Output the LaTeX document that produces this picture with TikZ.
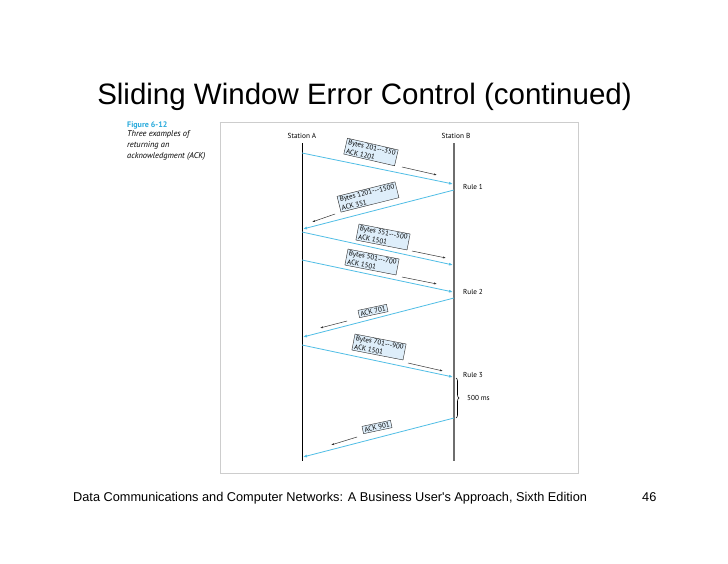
\documentclass[tikz,border=0pt]{standalone}
\usepackage{fontspec}
\setmainfont{Liberation Sans}
\newfontfamily\plainsans{Liberation Sans}[Ligatures=TeXOff]
\newfontfamily\figfont{PT Sans}
\usetikzlibrary{arrows.meta,decorations.pathreplacing}
\definecolor{msgcyan}{RGB}{80,190,230}
\definecolor{boxfill}{RGB}{222,238,250}
\definecolor{framegray}{RGB}{205,205,205}
\definecolor{capcyan}{RGB}{40,170,220}
\definecolor{stbgray}{RGB}{110,110,110}
\begin{document}
\begin{tikzpicture}[x=1pt,y=-1pt,
  msg/.style={draw=msgcyan,line width=0.8pt,-{Latex[length=4pt,width=3pt]}},
  dir/.style={draw=black!80,line width=0.5pt,-{Latex[length=3pt,width=2pt]}},
  lbl/.style={draw=black!85,line width=0.4pt,fill=boxfill,font=\figfont\fontsize{7}{8.8}\selectfont,align=left,inner xsep=1.8pt,inner ysep=1.2pt},
  figtxt/.style={font=\figfont\fontsize{7.3}{8}\selectfont,inner sep=0pt},
  rule/.style={font=\figfont\fontsize{7.2}{8}\selectfont,anchor=west,inner sep=0pt}]
\useasboundingbox (0,0) rectangle (728,563);
\fill[white] (0,0) rectangle (728,563);
% title and footer
\node[anchor=base,inner sep=0pt,font=\fontsize{29.5}{33}\selectfont] (title) at (364.5,104) {Sliding Window Error Control (continued)};
\node[anchor=base west,inner sep=0pt,font=\plainsans\fontsize{12.75}{15}\selectfont] (footer) at (73,501) {Data Communications and Computer Networks: A Business User's Approach, Sixth Edition};
\node[anchor=base west,inner sep=0pt,font=\fontsize{12.75}{15}\selectfont] (page) at (642,501) {46};
% caption
\node[anchor=west,inner sep=0pt,font=\figfont\bfseries\fontsize{8}{9}\selectfont,text=capcyan] (figno) at (127,125) {Figure 6-12};
\node[anchor=north west,inner sep=0pt,align=left,font=\figfont\itshape\fontsize{8.4}{11}\selectfont] (cap) at (127,130.5) {Three examples of\\returning an\\acknowledgment (ACK)};
% frame
\draw[framegray,line width=0.8pt] (220,122) rectangle (578,473);
% stations
\node[figtxt] (sa) at (302,136) {Station A};
\node[figtxt] (sb) at (456,136) {Station B};
\coordinate (At) at (302,143); \coordinate (Ab) at (302,461);
\coordinate (Bt) at (454,143); \coordinate (Bb) at (454,461);
\draw[black,line width=0.9pt] (At) -- (Ab);
\draw[stbgray,line width=1.4pt] (Bt) -- (Bb);
% message endpoints
\coordinate (a1) at (302,153); \coordinate (b1) at (453,184);
\coordinate (b2) at (454,190); \coordinate (a2) at (303,229);
\coordinate (a3) at (302,232); \coordinate (b3) at (453,265);
\coordinate (a4) at (302,260); \coordinate (b4) at (453,292);
\coordinate (b5) at (454,298); \coordinate (a5) at (303,337);
\coordinate (a6) at (302,345); \coordinate (b6) at (453,377);
\coordinate (b7) at (454,418); \coordinate (a7) at (303,457);
\draw[msg] (a1) -- (b1);
\draw[msg] (b2) -- (a2);
\draw[msg] (a3) -- (b3);
\draw[msg] (a4) -- (b4);
\draw[msg] (b5) -- (a5);
\draw[msg] (a6) -- (b6);
\draw[msg] (b7) -- (a7);
% labels
\node[lbl,rotate=-13] (l1) at (371,152) {Bytes 201---350\\ACK 1201};
\node[lbl,rotate=14] (l2) at (368,197) {Bytes 1201---1500\\ACK 351};
\node[lbl,rotate=-11] (l3) at (383,237) {Bytes 351---500\\ACK 1501};
\node[lbl,rotate=-11] (l4) at (372,262) {Bytes 501---700\\ACK 1501};
\node[lbl,rotate=12] (l5) at (373,311) {ACK 701};
\node[lbl,rotate=-11] (l6) at (379,347) {Bytes 701---900\\ACK 1501};
\node[lbl,rotate=12] (l7) at (377,427) {ACK 901};
% direction arrows
\coordinate (d1s) at (402,167); \coordinate (d1e) at (437,175);
\coordinate (d2s) at (335,214); \coordinate (d2e) at (312,222);
\coordinate (d3s) at (412,251); \coordinate (d3e) at (446,258);
\coordinate (d4s) at (402,277); \coordinate (d4e) at (437,284);
\coordinate (d5s) at (347,321); \coordinate (d5e) at (320,328);
\coordinate (d6s) at (408,363); \coordinate (d6e) at (443,371);
\coordinate (d7s) at (357,437); \coordinate (d7e) at (331,445);
\draw[dir] (d1s) -- (d1e);
\draw[dir] (d2s) -- (d2e);
\draw[dir] (d3s) -- (d3e);
\draw[dir] (d4s) -- (d4e);
\draw[dir] (d5s) -- (d5e);
\draw[dir] (d6s) -- (d6e);
\draw[dir] (d7s) -- (d7e);
% rules
\node[rule] (r1) at (463,187) {Rule 1};
\node[rule] (r2) at (463,292) {Rule 2};
\node[rule] (r3) at (463,375) {Rule 3};
\coordinate (brt) at (456,378); \coordinate (brb) at (456,418);
\draw[black,line width=0.6pt,decorate,decoration={brace,amplitude=3pt}] (brt) -- (brb);
\node[rule] (ms) at (467,398) {500 ms};
\end{tikzpicture}
\end{document}
